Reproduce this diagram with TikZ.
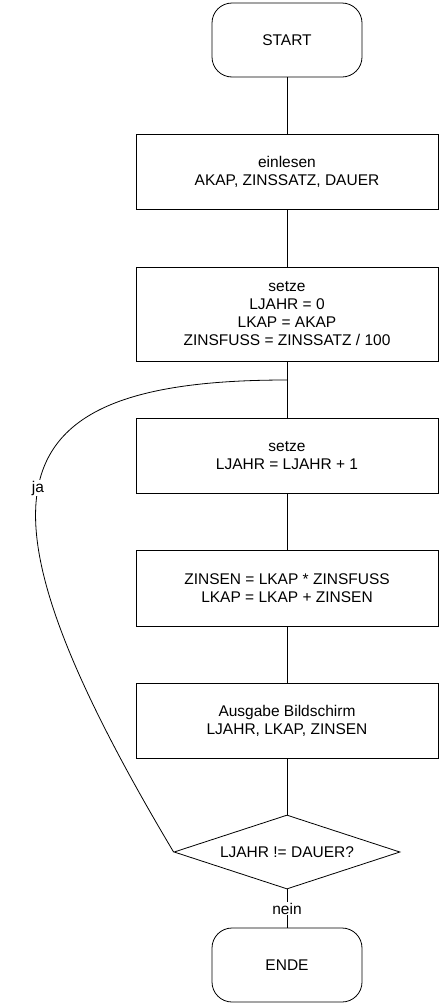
\documentclass[tikz,border=0pt]{standalone}
\usepackage{fontspec}
\setmainfont{Liberation Sans}
\usetikzlibrary{shapes.geometric}

\begin{document}
\begin{tikzpicture}[x=1pt,y=1pt,line width=0.8pt,
  every node/.style={font=\fontsize{15.5}{18}\selectfont},
  terminal/.style={draw,rounded corners=20pt,minimum width=150pt,minimum height=74pt},
  procbox/.style={draw,align=center,minimum width=302pt,minimum height=75pt},
  decision/.style={draw,diamond,aspect=3,inner sep=0pt,minimum width=226pt,minimum height=74pt},
  lbl/.style={fill=white,inner sep=1pt}]
  \useasboundingbox (0,0) rectangle (440,-1007);
  \node[terminal] (start) at (287,-40) {START};
  \node[procbox] (read) at (287,-172) {einlesen\\AKAP, ZINSSATZ, DAUER};
  \node[procbox,minimum height=94pt] (init) at (287,-314) {setze\\LJAHR = 0\\LKAP = AKAP\\ZINSFUSS = ZINSSATZ / 100};
  \node[procbox] (incr) at (287,-455.5) {setze\\LJAHR = LJAHR + 1};
  \node[procbox,minimum height=76pt] (calc) at (287,-588) {ZINSEN = LKAP * ZINSFUSS\\LKAP = LKAP + ZINSEN};
  \node[procbox] (show) at (287,-720.5) {Ausgabe Bildschirm\\LJAHR, LKAP, ZINSEN};
  \node[decision] (check) at (287,-852) {LJAHR != DAUER?};
  \node[terminal] (stop) at (287,-965) {ENDE};
  \coordinate (join) at (287,-380);
  % main flow
  \draw (start) -- (read);
  \draw (read) -- (init);
  \draw (init) -- (incr);
  \draw (incr) -- (calc);
  \draw (calc) -- (show);
  \draw (show) -- (check);
  \draw (check) -- node[lbl] {nein} (stop);
  % loop back
  \draw (check.west) .. controls (-44,-487) and (-3,-380) .. node[pos=0.48,lbl] {ja} (join);
\end{tikzpicture}
\end{document}
